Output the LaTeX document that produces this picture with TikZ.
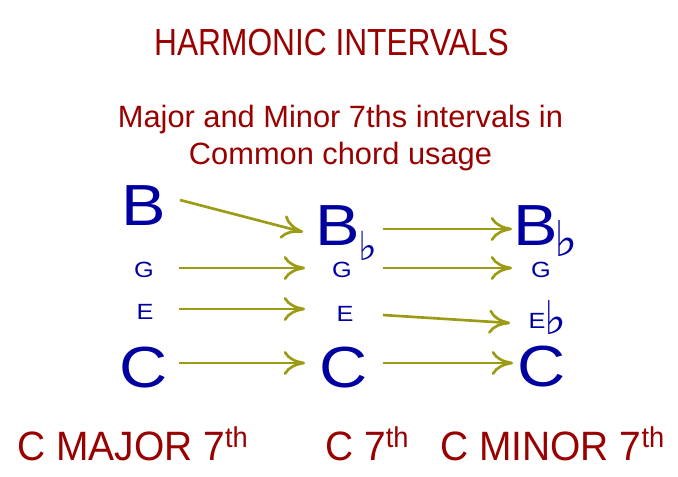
\documentclass[tikz,border=0pt]{standalone}
\usepackage{fontspec}
\setmainfont{Liberation Sans}
\newfontfamily\titlefont[FakeStretch=0.84]{Liberation Sans}
\newfontfamily\notefont[FakeStretch=1.15]{Liberation Sans}
\newfontfamily\labelfont[FakeStretch=0.95]{Liberation Sans}
\newfontfamily\flatfont{DejaVu Sans}
\usetikzlibrary{arrows.meta}
\definecolor{chordred}{RGB}{153,0,0}
\definecolor{noteblue}{RGB}{0,0,160}
\definecolor{voiceolive}{RGB}{155,155,20}
\tikzset{
  titletext/.style={text=chordred, inner sep=0pt, anchor=base, font=\titlefont\fontsize{28.3pt}{28.3pt}\selectfont},
  subtext/.style={text=chordred, inner sep=0pt, anchor=base, align=center, font=\fontsize{23.1pt}{27.75pt}\selectfont},
  chordlabel/.style={text=chordred, inner sep=0pt, anchor=base west, font=\labelfont\fontsize{30.75pt}{30.75pt}\selectfont},
  bignote/.style={text=noteblue, inner sep=0pt, font=\notefont\fontsize{43.5pt}{43.5pt}\selectfont},
  smallnote/.style={text=noteblue, inner sep=0pt, font=\notefont\fontsize{16.5pt}{16.5pt}\selectfont},
  flatsign/.style={text=noteblue, inner sep=0pt, font=\flatfont\fontsize{#1}{#1}\selectfont},
  voice/.style={draw=voiceolive, line width=2pt, -{Computer Modern Rightarrow[length=16pt,width=18pt]}}
}
\begin{document}
\begin{tikzpicture}[x=0.75pt,y=-0.75pt]
\useasboundingbox (0,0) rectangle (678,476);
\node [titletext] (title) at (331.5,55) {HARMONIC INTERVALS};
\node [subtext] (sub) at (340.5,164) {Major and Minor 7ths intervals in\\Common chord usage};

\node [bignote] (b1) at (144,206) {B};
\node [smallnote] (g1) at (144,270) {G};
\node [smallnote] (e1) at (145,312) {E};
\node [bignote] (c1) at (144,368) {C};

\node [bignote] (b2) at (338,226) {B};
\node [flatsign=30pt] (fb2) at (368,246) {♭};
\node [smallnote] (g2) at (342,270) {G};
\node [smallnote] (e2) at (345,314) {E};
\node [bignote] (c2) at (344,368) {C};

\node [bignote] (b3) at (536,226) {B};
\node [flatsign=37pt] (fb3) at (566,239) {♭};
\node [smallnote] (g3) at (541,270) {G};
\node [smallnote] (e3) at (537,321) {E};
\node [flatsign=35pt] (fe3) at (555,318) {♭};
\node [bignote] (c3) at (542,367) {C};

\draw [voice] ([shift={(36,-6)}]b1.center) -- ([shift={(-35,6)}]b2.center);
\draw [voice] ([shift={(35,-2)}]g1.center) -- ([shift={(-37,-2)}]g2.center);
\draw [voice] ([shift={(34,-3)}]e1.center) -- ([shift={(-40,-5)}]e2.center);
\draw [voice] ([shift={(35,-5)}]c1.center) -- ([shift={(-39,-5)}]c2.center);

\draw [voice] ([shift={(45,3)}]b2.center) -- ([shift={(-24,3)}]b3.center);
\draw [voice] ([shift={(41,-2)}]g2.center) -- ([shift={(-29,-2)}]g3.center);
\draw [voice] ([shift={(38,1)}]e2.center) -- ([shift={(-27,2)}]e3.center);
\draw [voice] ([shift={(39,-5)}]c2.center) -- ([shift={(-29,-4)}]c3.center);

\node [chordlabel] (maj) at (17,460) {C MAJOR 7\textsuperscript{th}};
\node [chordlabel] (dom) at (325,460) {C 7\textsuperscript{th}};
\node [chordlabel] (min) at (440,460) {C MINOR 7\textsuperscript{th}};
\end{tikzpicture}
\end{document}
